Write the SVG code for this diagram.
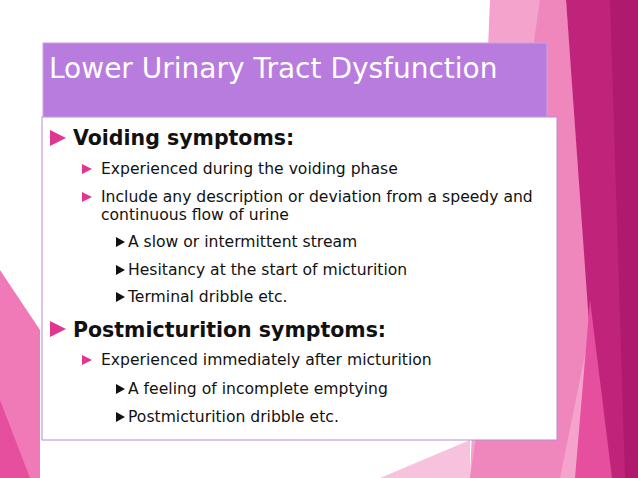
<svg xmlns="http://www.w3.org/2000/svg" width="638" height="478" viewBox="0 0 638 478">
<style>
.t{font-family:"DejaVu Sans",sans-serif;fill:#111}
.h{font-size:20.5px;font-weight:bold}
.s{font-size:15.6px}
.pk{fill:#e0368f}
.bk{fill:#111}
</style>
<rect width="638" height="478" fill="#fff"/>
<g id="background">
<polygon points="490,0 566,0 606,478 470,478" fill="#f4a3cc"/>
<polygon points="540,0 566,0 590,330 560,478 470,478" fill="#ef86bc"/>
<polygon points="566,0 638,0 638,478 600,478" fill="#c0237a"/>
<polygon points="610,0 638,0 638,478 625,478" fill="#b01a6e"/>
<polygon points="590,300 612,478 575,478" fill="#e64f9d"/>
<polygon points="0,270 40,330 40,478 0,478" fill="#f07ab8"/>
<polygon points="0,400 30,478 0,478" fill="#e64f9d"/>
<polygon points="380,478 470,440 470,478" fill="#f7c2dd"/>
</g>
<g id="title">
<rect x="43" y="43" width="504" height="74" fill="#b87cde" stroke="#c9a0e6"/>
<text x="49" y="78" font-family="DejaVu Sans,sans-serif" font-size="28" fill="#fff">Lower Urinary Tract Dysfunction</text>
</g>
<g id="content">
<rect x="42" y="117" width="515" height="323" fill="#fff" stroke="#b98ad8"/>
<polygon class="pk" points="50,130 66,138 50,146"/>
<text class="t h" x="73" y="145">Voiding symptoms:</text>
<polygon class="pk" points="82,164 92,169 82,174"/>
<text class="t s" x="101" y="174">Experienced during the voiding phase</text>
<polygon class="pk" points="82,192 92,197 82,202"/>
<text class="t s" x="101" y="202">Include any description or deviation from a speedy and</text>
<text class="t s" x="101" y="220">continuous flow of urine</text>
<polygon class="bk" points="116,237 125,242 116,247"/>
<text class="t s" x="128" y="247">A slow or intermittent stream</text>
<polygon class="bk" points="116,265 125,270 116,275"/>
<text class="t s" x="128" y="275">Hesitancy at the start of micturition</text>
<polygon class="bk" points="116,292 125,297 116,302"/>
<text class="t s" x="128" y="302">Terminal dribble etc.</text>
<polygon class="pk" points="50,321 66,329 50,337"/>
<text class="t h" x="73" y="337">Postmicturition symptoms:</text>
<polygon class="pk" points="82,355 92,360 82,365"/>
<text class="t s" x="101" y="365">Experienced immediately after micturition</text>
<polygon class="bk" points="116,384 125,389 116,394"/>
<text class="t s" x="128" y="394">A feeling of incomplete emptying</text>
<polygon class="bk" points="116,412 125,417 116,422"/>
<text class="t s" x="128" y="422">Postmicturition dribble etc.</text>
</g>
</svg>
